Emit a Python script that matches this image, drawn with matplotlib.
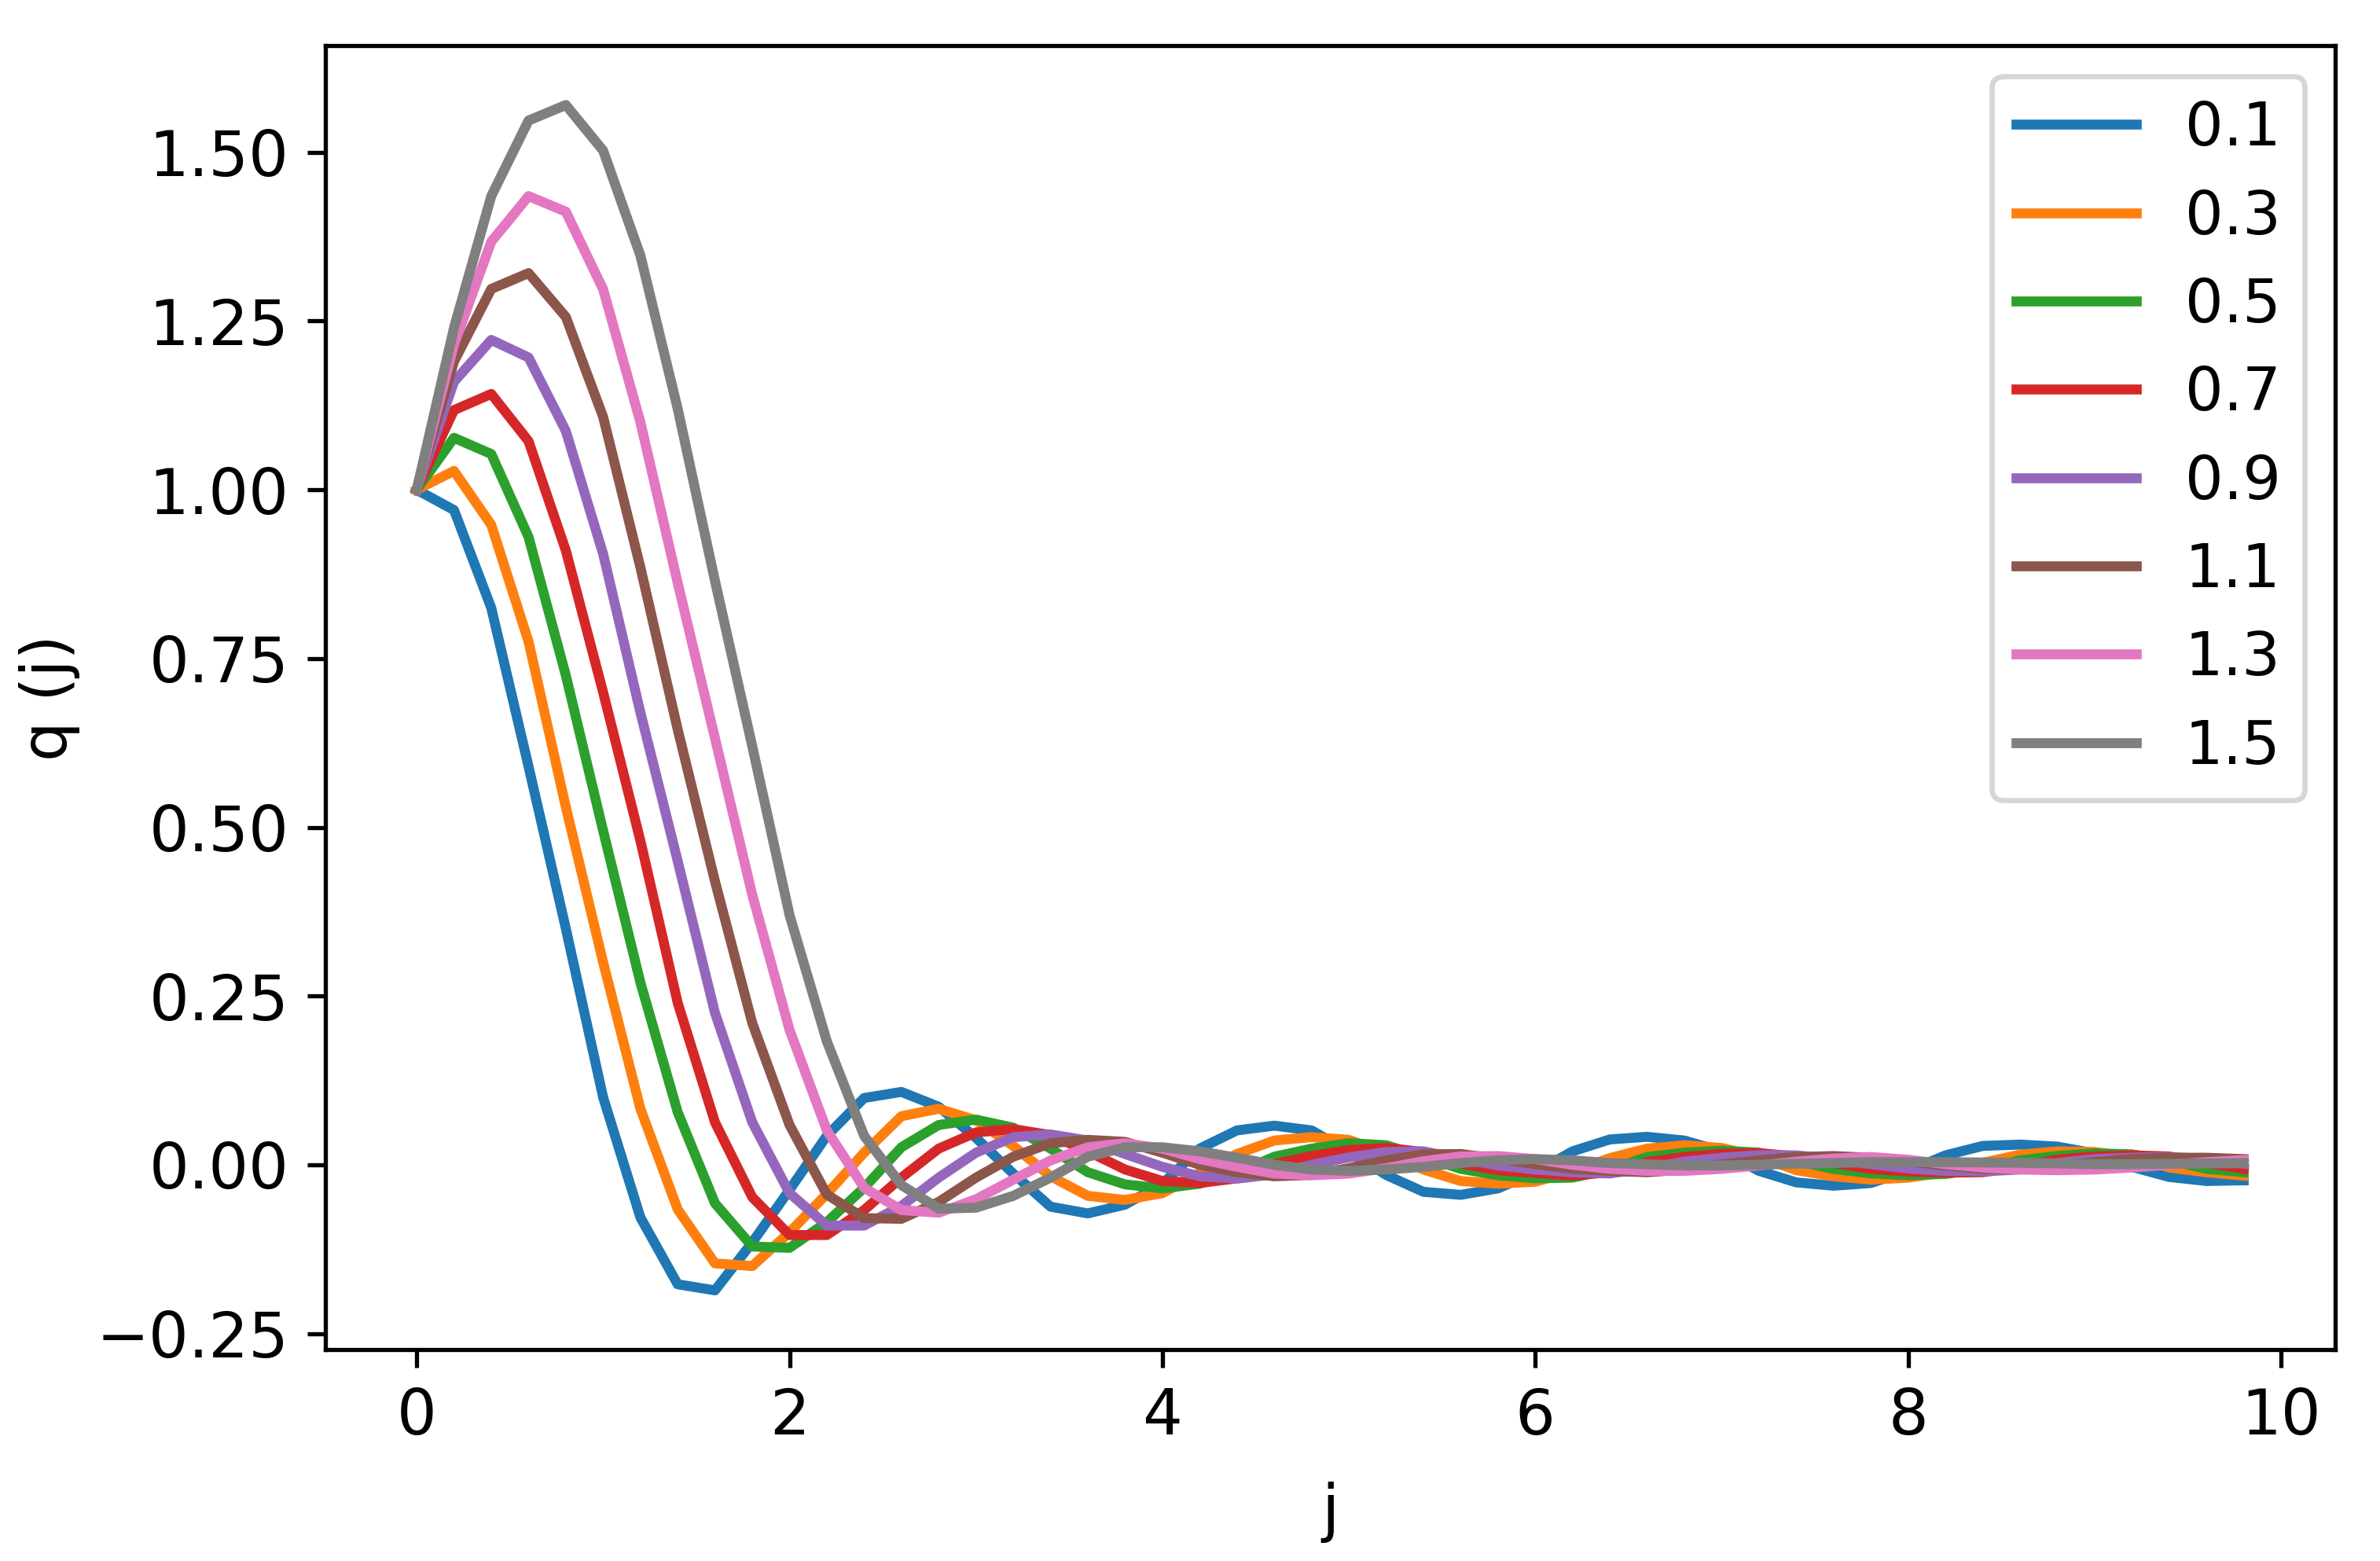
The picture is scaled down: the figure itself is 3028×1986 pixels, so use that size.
import matplotlib
matplotlib.use("Agg")
import matplotlib.pyplot as plt

plt.rcParams["font.size"] = 12

# sample points j
j_vals = [0.0, 0.2, 0.4, 0.6, 0.8, 1.0, 1.2, 1.4, 1.6, 1.8,
          2.0, 2.2, 2.4, 2.6, 2.8, 3.0, 3.2, 3.4, 3.6, 3.8,
          4.0, 4.2, 4.4, 4.6, 4.8, 5.0, 5.2, 5.4, 5.6, 5.8,
          6.0, 6.2, 6.4, 6.6, 6.8, 7.0, 7.2, 7.4, 7.6, 7.8,
          8.0, 8.2, 8.4, 8.6, 8.8, 9.0, 9.2, 9.4, 9.6, 9.8]

labels = ["0.1", "0.3", "0.5", "0.7", "0.9", "1.1", "1.3", "1.5"]

# q(j), one list per curve
q_01 = [1.0, 0.97, 0.825, 0.59, 0.35, 0.10, -0.078, -0.177, -0.186, -0.115,
        -0.037, 0.043, 0.099, 0.108, 0.086, 0.040, -0.013, -0.062, -0.072, -0.059,
        -0.028, 0.024, 0.051, 0.058, 0.051, 0.020, -0.015, -0.040, -0.0445, -0.035,
        -0.011, 0.020, 0.0376, 0.0415, 0.036, 0.020, -0.009, -0.026, -0.031, -0.027,
        -0.009, 0.014, 0.028, 0.030, 0.027, 0.017, -0.003, -0.018, -0.024, -0.023]
q_03 = [1.0, 1.028, 0.948, 0.775, 0.53, 0.30, 0.083, -0.066, -0.146, -0.150,
        -0.100, -0.043, 0.018, 0.072, 0.083, 0.066, 0.028, -0.017, -0.046, -0.052,
        -0.042, -0.012, 0.016, 0.036, 0.041, 0.037, 0.018, -0.007, -0.024, -0.028,
        -0.025, -0.010, 0.010, 0.024, 0.029, 0.025, 0.012, -0.008, -0.017, -0.022,
        -0.019, -0.011, 0.003, 0.015, 0.020, 0.019, 0.012, -0.004, -0.011, -0.016]
q_05 = [1.0, 1.077, 1.053, 0.93, 0.725, 0.495, 0.27, 0.078, -0.057, -0.121,
        -0.123, -0.085, -0.034, 0.026, 0.059, 0.067, 0.055, 0.024, -0.011, -0.029,
        -0.035, -0.028, -0.012, 0.012, 0.024, 0.032, 0.029, 0.012, -0.006, -0.0155,
        -0.020, -0.019, -0.007, 0.0116, 0.018, 0.021, 0.018, 0.0054, -0.006, -0.0128,
        -0.0155, -0.0135, -0.006, 0.0066, 0.0132, 0.017, 0.0155, 0.0066, -0.006, -0.011]
q_07 = [1.0, 1.118, 1.142, 1.072, 0.91, 0.70, 0.48, 0.24, 0.063, -0.048,
        -0.104, -0.104, -0.067, -0.019, 0.024, 0.048, 0.053, 0.044, 0.020, -0.007,
        -0.024, -0.027, -0.020, 0.001, 0.013, 0.022, 0.025, 0.019, 0.002, -0.008,
        -0.012, -0.016, -0.011, 0.004, 0.0116, 0.0163, 0.0174, 0.0124, 0.0027, -0.006,
        -0.010, -0.0116, -0.011, -0.003, 0.0078, 0.0124, 0.014, 0.0124, 0.0027, -0.006]
q_09 = [1.0, 1.16, 1.222, 1.196, 1.087, 0.905, 0.67, 0.45, 0.225, 0.063,
        -0.042, -0.090, -0.090, -0.061, -0.019, 0.018, 0.041, 0.045, 0.036, 0.016,
        -0.003, -0.017, -0.0205, -0.014, 0.0, 0.011, 0.019, 0.020, 0.009, -0.001,
        -0.007, -0.011, -0.0128, -0.005, 0.0047, 0.0105, 0.0143, 0.014, 0.0085, 0.0008,
        -0.0054, -0.009, -0.0097, -0.007, 0.0027, 0.0085, 0.0105, 0.0116, 0.0085, 0.0016]
q_11 = [1.0, 1.19, 1.2975, 1.321, 1.256, 1.108, 0.885, 0.645, 0.42, 0.21,
        0.059, -0.044, -0.079, -0.080, -0.055, -0.019, 0.012, 0.032, 0.037, 0.034,
        0.018, 0.0, -0.011, -0.017, -0.015, -0.005, 0.0066, 0.0155, 0.016, 0.009,
        0.001, -0.006, -0.009, -0.011, -0.007, 0.0008, 0.0066, 0.0116, 0.013, 0.0105,
        0.0047, -0.001, -0.006, -0.006, -0.001, 0.004, 0.0085, 0.0105, 0.0105, 0.0085]
q_13 = [1.0, 1.215, 1.3675, 1.435, 1.412, 1.297, 1.10, 0.862, 0.632, 0.40,
        0.20, 0.051, -0.034, -0.067, -0.071, -0.051, -0.022, 0.0065, 0.026, 0.032,
        0.024, 0.0085, -0.003, -0.013, -0.0155, -0.013, -0.005, 0.0054, 0.0124, 0.013,
        0.0085, 0.0, -0.006, -0.009, -0.009, -0.006, -0.001, 0.0047, 0.0093, 0.0116,
        0.0075, 0.001, -0.004, -0.007, -0.008, -0.007, -0.004, 0.0, 0.004, 0.007]
q_15 = [1.0, 1.24, 1.435, 1.547, 1.570, 1.5025, 1.347, 1.12, 0.865, 0.62,
        0.37, 0.183, 0.043, -0.030, -0.065, -0.0635, -0.046, -0.019, 0.012, 0.026,
        0.026, 0.020, 0.0105, 0.0, -0.007, -0.009, -0.007, -0.003, 0.0027, 0.0066,
        0.0085, 0.0066, 0.0027, 0.0008, -0.001, -0.001, 0.0, 0.0016, 0.0027, 0.0039,
        0.0039, 0.0039, 0.0035, 0.003, 0.002, 0.001, 0.001, 0.0015, 0.002, 0.0025]

curves = [q_01, q_03, q_05, q_07, q_09, q_11, q_13, q_15]

fig = plt.figure(figsize=(3028 / 480, 1986 / 480), dpi=480)
ax = fig.add_axes([0.1367, 0.1354, 0.8444, 0.8353])

for q, lab in zip(curves, labels):
    ax.plot(j_vals, q, linewidth=1.9, label=lab)

ax.set_xlabel("j", labelpad=6.5)
ax.set_ylabel("q (j)", labelpad=3)
ax.legend(loc="upper right", fontsize=11.5)

fig.savefig("out.png", dpi=480)
